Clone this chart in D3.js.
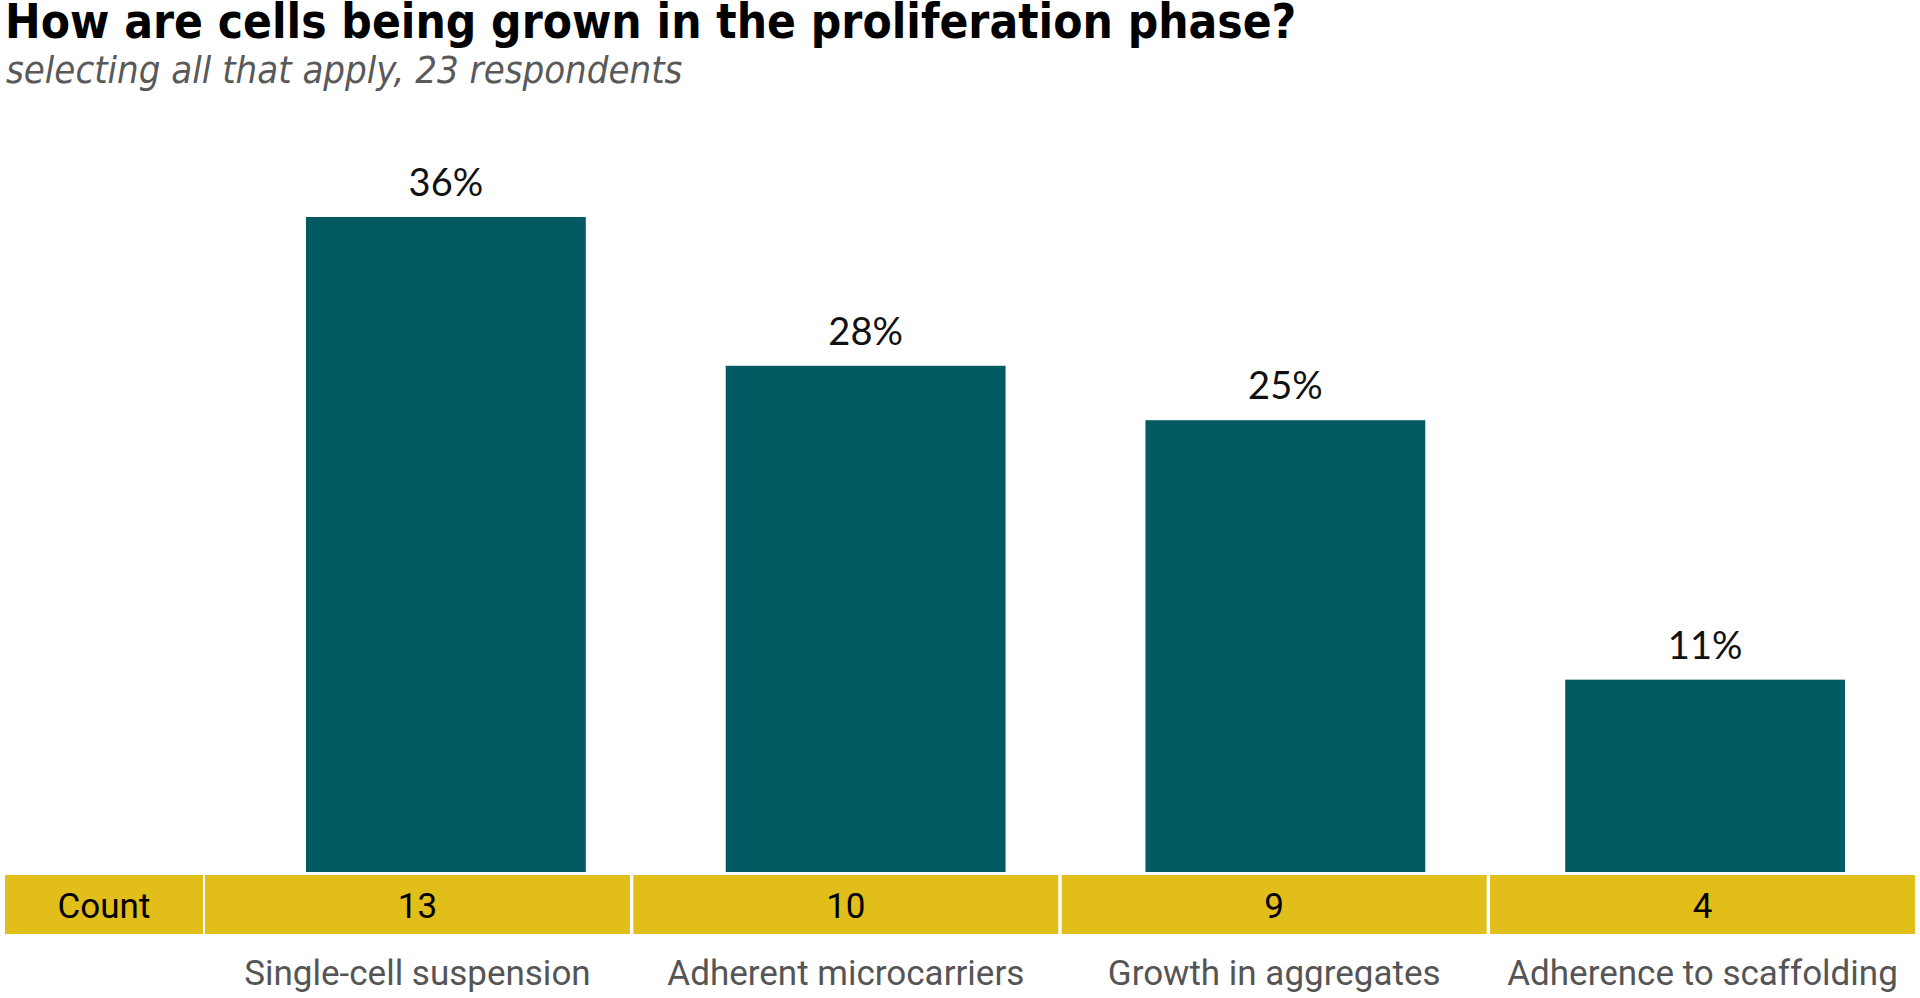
<!DOCTYPE html>
<html>
<head>
<meta charset="utf-8">
<script src="https://cdn.jsdelivr.net/npm/d3@7"></script>
<style>
  body { margin: 0; background: #fff; }
  svg { display: block; }
</style>
</head>
<body>
<div id="chart"></div>
<script>
// data
const categories = ["Single-cell suspension", "Adherent microcarriers", "Growth in aggregates", "Adherence to scaffolding"];
const counts = [13, 10, 9, 4];
const shares = [36.1, 27.9, 24.9, 10.6];   // percent, as bar heights
const rowLabel = "Count";
const title = "How are cells being grown in the proliferation phase?";
const subtitle = "selecting all that apply, 23 respondents";

const W = 1920, H = 998;
const barColor = "#035a63", cellColor = "#e1be1a";
const base = 872;

const data = categories.map((c, i) => ({cat: c, n: counts[i], pct: shares[i]}));

const svg = d3.select("#chart").append("svg")
  .attr("width", W).attr("height", H);

// title block
svg.append("text")
  .attr("x", 5).attr("y", 38)
  .style("font-family", "'DejaVu Sans', sans-serif")
  .style("font-stretch", "condensed")
  .style("font-weight", 700)
  .style("font-size", "47.4px")
  .style("fill", "#000")
  .text(title);

svg.append("text")
  .attr("x", 6).attr("y", 83)
  .style("font-family", "'DejaVu Sans', sans-serif")
  .style("font-stretch", "condensed")
  .style("font-style", "italic")
  .style("font-size", "38px")
  .style("fill", "#595959")
  .text(subtitle);

// bars
const x = d3.scaleBand()
  .domain(categories)
  .range([236, 1915])
  .paddingInner(1/3)
  .paddingOuter(1/6);

const y = d3.scaleLinear()
  .domain([0, 36.1])
  .range([base, 217]);

svg.selectAll("rect.bar")
  .data(data)
  .enter().append("rect")
  .attr("class", "bar")
  .attr("x", d => x(d.cat))
  .attr("y", d => y(d.pct))
  .attr("width", x.bandwidth())
  .attr("height", d => y(0) - y(d.pct))
  .attr("fill", barColor);

svg.selectAll("text.pct")
  .data(data)
  .enter().append("text")
  .attr("class", "pct")
  .attr("x", d => x(d.cat) + x.bandwidth() / 2)
  .attr("y", d => y(d.pct) - 21)
  .attr("text-anchor", "middle")
  .style("font-family", "Lato, 'Liberation Sans', sans-serif")
  .style("font-size", "38px")
  .style("fill", "#111")
  .text(d => d3.format(".0f")(d.pct) + "%");

// count table row
const rowY = 875, rowH = 59;
const col = d3.scaleBand()
  .domain(categories)
  .range([205, 1915])
  .paddingInner(0.008);

svg.append("rect")
  .attr("x", 5).attr("y", rowY)
  .attr("width", 198).attr("height", rowH)
  .attr("fill", cellColor);

svg.append("text")
  .attr("x", 104).attr("y", rowY + 43)
  .attr("text-anchor", "middle")
  .style("font-family", "Roboto, 'Liberation Sans', sans-serif")
  .style("font-size", "35px")
  .style("fill", "#000")
  .text(rowLabel);

svg.selectAll("rect.cell")
  .data(data)
  .enter().append("rect")
  .attr("class", "cell")
  .attr("x", d => col(d.cat))
  .attr("y", rowY)
  .attr("width", col.bandwidth())
  .attr("height", rowH)
  .attr("fill", cellColor);

svg.selectAll("text.count")
  .data(data)
  .enter().append("text")
  .attr("class", "count")
  .attr("x", d => col(d.cat) + col.bandwidth() / 2)
  .attr("y", rowY + 43)
  .attr("text-anchor", "middle")
  .style("font-family", "Roboto, 'Liberation Sans', sans-serif")
  .style("font-size", "35px")
  .style("fill", "#000")
  .text(d => d.n);

// category axis under the table
const axis = svg.append("g")
  .attr("transform", "translate(0," + (rowY + rowH) + ")")
  .call(d3.axisBottom(col).tickSize(0).tickPadding(26));
axis.select(".domain").remove();
axis.selectAll("text")
  .attr("dy", "0.71em")
  .style("font-family", "Roboto, 'Liberation Sans', sans-serif")
  .style("font-size", "35px")
  .style("fill", "#555");
</script>
</body>
</html>
